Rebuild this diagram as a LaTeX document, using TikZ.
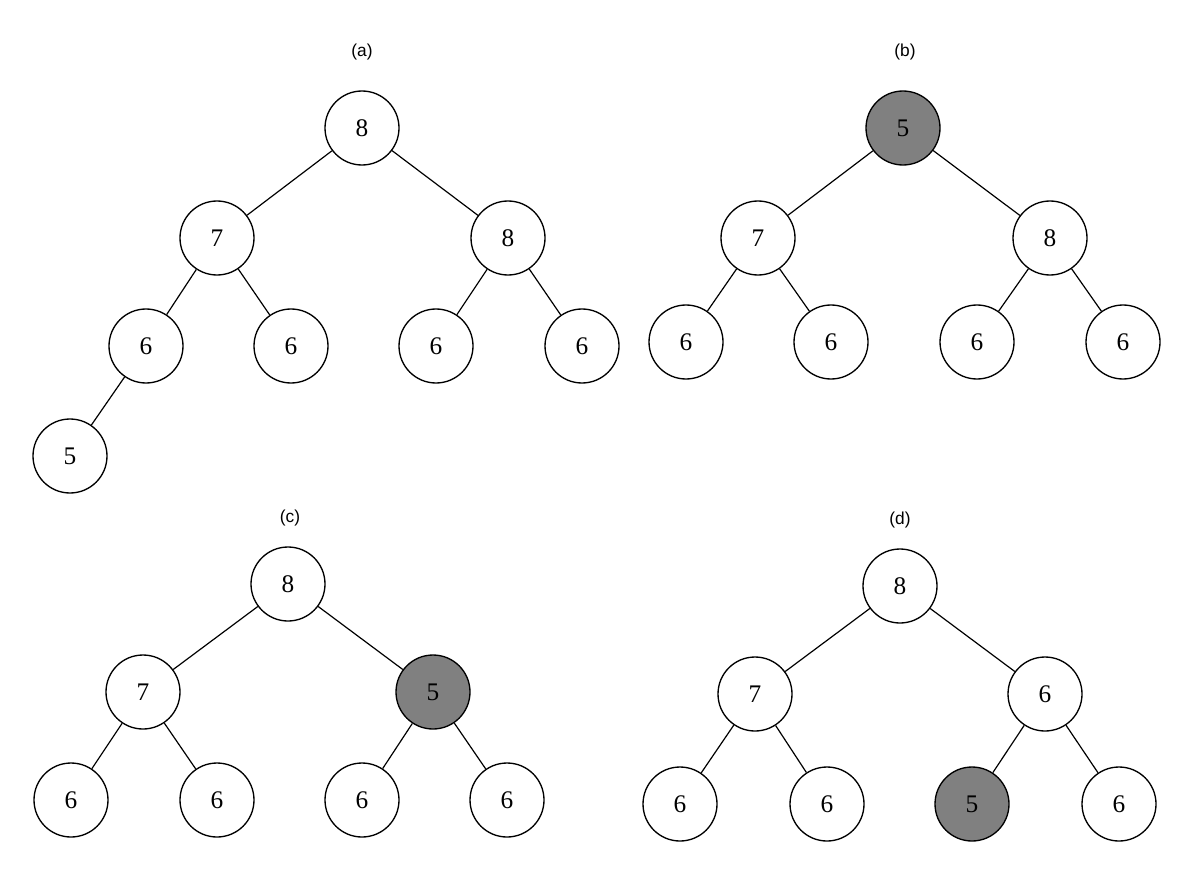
\documentclass[tikz,border=0pt]{standalone}
\usepackage{fontspec}
\setmainfont{Liberation Serif}
\newfontfamily\lblfont{Liberation Sans}
\begin{document}
\begin{tikzpicture}[x=0.75pt,y=-0.75pt,
  n/.style={circle,draw=black,line width=1pt,minimum size=55.5pt,inner sep=0pt,fill=white,font=\fontsize{19}{19}\selectfont},
  g/.style={n,fill=gray!75!black!80},
  lbl/.style={font=\lblfont\fontsize{13}{13}\selectfont},
  e/.style={line width=0.9pt}]
\useasboundingbox (0,0) rectangle (1180,870);
% (a)
\node[lbl] (la) at (362,52) {(a)};
\node[n] (a1) at (362,128) {8};
\node[n] (a2) at (217,238) {7};
\node[n] (a3) at (508,238) {8};
\node[n] (a4) at (146,346) {6};
\node[n] (a5) at (291,346) {6};
\node[n] (a6) at (436,346) {6};
\node[n] (a7) at (582,346) {6};
\node[n] (a8) at (70,456) {5};
\draw[e] (a1)--(a2) (a1)--(a3) (a2)--(a4) (a2)--(a5) (a3)--(a6) (a3)--(a7) (a4)--(a8);
% (b)
\node[lbl] (lb) at (905,52) {(b)};
\node[g] (b1) at (903,128) {5};
\node[n] (b2) at (758,238) {7};
\node[n] (b3) at (1050,238) {8};
\node[n] (b4) at (686,342) {6};
\node[n] (b5) at (831,342) {6};
\node[n] (b6) at (977,342) {6};
\node[n] (b7) at (1123,342) {6};
\draw[e] (b1)--(b2) (b1)--(b3) (b2)--(b4) (b2)--(b5) (b3)--(b6) (b3)--(b7);
% (c)
\node[lbl] (lc) at (290,518) {(c)};
\node[n] (c1) at (288,584) {8};
\node[n] (c2) at (143,692) {7};
\node[g] (c3) at (433,692) {5};
\node[n] (c4) at (71,800) {6};
\node[n] (c5) at (217,800) {6};
\node[n] (c6) at (362,800) {6};
\node[n] (c7) at (507,800) {6};
\draw[e] (c1)--(c2) (c1)--(c3) (c2)--(c4) (c2)--(c5) (c3)--(c6) (c3)--(c7);
% (d)
\node[lbl] (ld) at (900,520) {(d)};
\node[n] (d1) at (900,586) {8};
\node[n] (d2) at (755,694) {7};
\node[n] (d3) at (1045,694) {6};
\node[n] (d4) at (680,804) {6};
\node[n] (d5) at (827,804) {6};
\node[g] (d6) at (972,804) {5};
\node[n] (d7) at (1119,804) {6};
\draw[e] (d1)--(d2) (d1)--(d3) (d2)--(d4) (d2)--(d5) (d3)--(d6) (d3)--(d7);
\end{tikzpicture}
\end{document}
